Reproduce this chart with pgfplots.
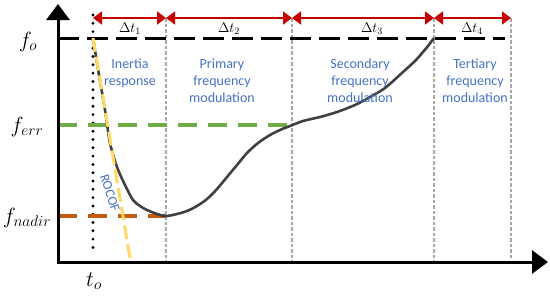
\documentclass[border=0pt]{standalone}
\usepackage{fix-cm}
\usepackage{pgfplots}
\pgfplotsset{compat=1.18}
\usepackage{fontspec}
\setmainfont{Carlito}
\usetikzlibrary{arrows.meta}
\definecolor{txtblue}{RGB}{68,114,196}
\definecolor{fgreen}{RGB}{112,173,71}
\definecolor{forange}{RGB}{197,90,17}
\definecolor{fyellow}{RGB}{255,217,102}
\definecolor{fred}{RGB}{200,0,0}
\definecolor{fgray}{RGB}{166,166,166}
\definecolor{fcurve}{RGB}{64,64,64}
\begin{document}
\begin{tikzpicture}[x=1pt,y=1pt]
\path[use as bounding box] (0,0) rectangle (550,301);
\begin{axis}[at={(0,0)},anchor=south west,width=550pt,height=301pt,scale only axis,
  xmin=0,xmax=550,ymin=0,ymax=301,y dir=reverse,hide axis,clip=false]
% gray dashed separators
\addplot[fgray,line width=2.8pt,dash pattern=on 3.5pt off 2pt] coordinates {(166,18) (166,262)};
\addplot[fgray,line width=2.8pt,dash pattern=on 3.5pt off 2pt] coordinates {(292,18) (292,262)};
\addplot[fgray,line width=2.8pt,dash pattern=on 3.5pt off 2pt] coordinates {(434,18) (434,262)};
\addplot[fgray,line width=2.8pt,dash pattern=on 3.5pt off 2pt] coordinates {(511,18) (511,258)};
% t_o dotted
\addplot[black,line width=3.2pt,line cap=round,dash pattern=on 0pt off 8.3pt] coordinates {(93,15) (93,254)};
% reference levels
\addplot[black,line width=3pt,dash pattern=on 21pt off 8pt] coordinates {(58,38) (505,38)};
\addplot[fgreen,line width=3.5pt,dash pattern=on 19pt off 11pt] coordinates {(58,125) (292,125)};
\addplot[forange,line width=3.5pt,dash pattern=on 19pt off 11pt] coordinates {(58,216) (166,216)};
% frequency curve
\addplot[fcurve,line width=2.6pt,smooth] coordinates {
(93,38) (99,75) (105,110) (110,143) (117,167) (125,185) (133,200) (140,206) (147,210)
(157,214) (166,216) (177,214) (187,211) (197,206) (207,199) (217,189) (227,177)
(237,165) (247,153) (258,143) (270,135) (280,130) (290,126) (303,121) (320,117)
(337,112) (355,105) (370,97) (385,88) (403,72) (415,61) (423,52) (428,46) (434,38)};
% ROCOF line
\addplot[fyellow,line width=3pt,dash pattern=on 14pt off 5pt] coordinates {(93,38) (130,258)};
% time interval arrows
\addplot[fred,line width=1.6pt,{Triangle[length=9pt,width=13pt]}-{Triangle[length=9pt,width=13pt]}] coordinates {(93,18) (166,18)};
\addplot[fred,line width=1.6pt,{Triangle[length=9pt,width=13pt]}-{Triangle[length=9pt,width=13pt]}] coordinates {(166,18) (292,18)};
\addplot[fred,line width=1.6pt,{Triangle[length=9pt,width=13pt]}-{Triangle[length=9pt,width=13pt]}] coordinates {(292,18) (434,18)};
\addplot[fred,line width=1.6pt,{Triangle[length=9pt,width=13pt]}-{Triangle[length=9pt,width=13pt]}] coordinates {(434,18) (511,18)};
% axes
\addplot[black,line width=3pt,-{Triangle[length=16pt,width=23pt]}] coordinates {(56.5,262) (548,262)};
\addplot[black,line width=3pt,-{Triangle[length=16pt,width=23pt]}] coordinates {(58,263.5) (58,4)};
% labels
\node[font=\fontsize{14}{14}\selectfont] at (130,29) {$\Delta t_1$};
\node[font=\fontsize{14}{14}\selectfont] at (229,29) {$\Delta t_2$};
\node[font=\fontsize{14}{14}\selectfont] at (372,29) {$\Delta t_3$};
\node[font=\fontsize{14}{14}\selectfont] at (472,29) {$\Delta t_4$};
\node[txtblue,align=center,font=\fontsize{14}{17}\selectfont] at (130,73) {Inertia\\response};
\node[txtblue,align=center,font=\fontsize{14}{17}\selectfont] at (222,81) {Primary\\frequency\\modulation};
\node[txtblue,align=center,font=\fontsize{14}{17}\selectfont] at (360,81) {Secondary\\frequency\\modulation};
\node[txtblue,align=center,font=\fontsize{14}{17}\selectfont] at (475,81) {Tertiary\\frequency\\modulation};
\node[txtblue,rotate=-72,font=\fontsize{13.5}{13.5}\selectfont] at (110,193) {ROCOF};
\node[font=\fontsize{22}{22}\selectfont] at (28,42) {$f_o$};
\node[font=\fontsize{22}{22}\selectfont] at (27,127) {$f_{err}$};
\node[font=\fontsize{22}{22}\selectfont] at (27,218) {$f_{nadir}$};
\node[font=\fontsize{22}{22}\selectfont] at (94,281) {$t_o$};
\end{axis}
\end{tikzpicture}
\end{document}
